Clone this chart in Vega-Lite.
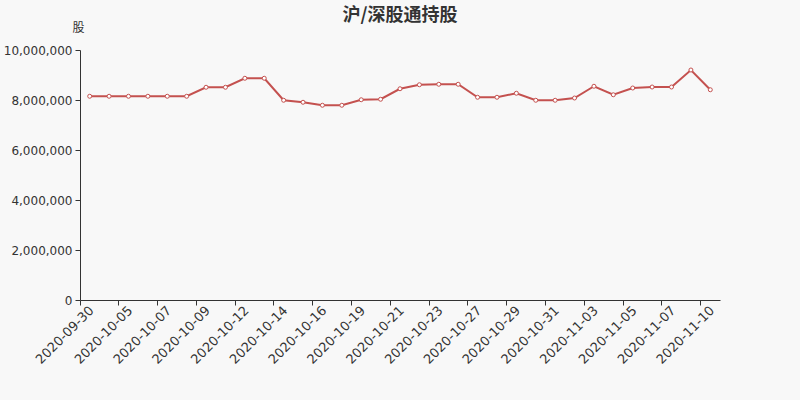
{
  "$schema": "https://vega.github.io/schema/vega-lite/v6.json",
  "description": "沪/深股通持股 line chart",
  "background": "#f8f8f8",
  "autosize": "none",
  "padding": {"left": 80, "top": 50, "right": 80, "bottom": 100},
  "width": 640,
  "height": 250,
  "title": {
    "text": "沪/深股通持股",
    "font": "Noto Sans CJK SC",
    "fontSize": 18,
    "fontWeight": "bold",
    "color": "#333333",
    "anchor": "middle",
    "frame": "group",
    "offset": -4
  },
  "config": {
    "view": {"stroke": null},
    "font": "DejaVu Sans",
    "axis": {
      "labelFont": "DejaVu Sans",
      "labelFontSize": 12,
      "labelColor": "#333333",
      "domainColor": "#333333",
      "tickColor": "#333333",
      "tickSize": 5,
      "grid": false
    }
  },
  "data": {
    "values": [
      {"date": "2020-09-30", "shares": 8150000},
      {"date": "2020-10-02", "shares": 8150000},
      {"date": "2020-10-05", "shares": 8150000},
      {"date": "2020-10-06", "shares": 8150000},
      {"date": "2020-10-07", "shares": 8150000},
      {"date": "2020-10-08", "shares": 8150000},
      {"date": "2020-10-09", "shares": 8510000},
      {"date": "2020-10-11", "shares": 8510000},
      {"date": "2020-10-12", "shares": 8870000},
      {"date": "2020-10-13", "shares": 8870000},
      {"date": "2020-10-14", "shares": 7990000},
      {"date": "2020-10-15", "shares": 7910000},
      {"date": "2020-10-16", "shares": 7790000},
      {"date": "2020-10-18", "shares": 7790000},
      {"date": "2020-10-19", "shares": 8010000},
      {"date": "2020-10-20", "shares": 8030000},
      {"date": "2020-10-21", "shares": 8450000},
      {"date": "2020-10-22", "shares": 8610000},
      {"date": "2020-10-23", "shares": 8630000},
      {"date": "2020-10-26", "shares": 8630000},
      {"date": "2020-10-27", "shares": 8110000},
      {"date": "2020-10-28", "shares": 8110000},
      {"date": "2020-10-29", "shares": 8270000},
      {"date": "2020-10-30", "shares": 7990000},
      {"date": "2020-10-31", "shares": 7990000},
      {"date": "2020-11-02", "shares": 8080000},
      {"date": "2020-11-03", "shares": 8550000},
      {"date": "2020-11-04", "shares": 8210000},
      {"date": "2020-11-05", "shares": 8480000},
      {"date": "2020-11-06", "shares": 8520000},
      {"date": "2020-11-07", "shares": 8520000},
      {"date": "2020-11-09", "shares": 9200000},
      {"date": "2020-11-10", "shares": 8410000}
    ]
  },
  "mark": {
    "type": "line",
    "color": "#c4514f",
    "strokeWidth": 2,
    "point": {"filled": true, "fill": "#ffffff", "stroke": "#c4514f", "strokeWidth": 1, "size": 16}
  },
  "encoding": {
    "x": {
      "field": "date",
      "type": "ordinal",
      "sort": null,
      "scale": {"type": "band", "paddingInner": 0, "paddingOuter": 0},
      "axis": {
        "title": null,
        "bandPosition": 0,
        "labelOffset": 2,
        "labelAngle": -45,
        "labelAlign": "right",
        "labelBaseline": "middle",
        "labelPadding": 3,
        "labelFont": "DejaVu Sans",
        "labelFontSize": 13,
        "labelLimit": 200,
        "labelOverlap": false,
        "values": ["2020-09-30", "2020-10-05", "2020-10-07", "2020-10-09", "2020-10-12", "2020-10-14", "2020-10-16", "2020-10-19", "2020-10-21", "2020-10-23", "2020-10-27", "2020-10-29", "2020-10-31", "2020-11-03", "2020-11-05", "2020-11-07", "2020-11-10"]
      }
    },
    "y": {
      "field": "shares",
      "type": "quantitative",
      "scale": {"domain": [0, 10000000], "nice": false},
      "axis": {
        "title": "股",
        "titleFont": "Noto Sans CJK SC",
        "titleFontSize": 12,
        "titleFontWeight": "normal",
        "titleColor": "#333333",
        "titleAngle": 0,
        "titleX": -2,
        "titleY": -16,
        "titleAlign": "center",
        "titleBaseline": "bottom",
        "values": [0, 2000000, 4000000, 6000000, 8000000, 10000000],
        "format": ",.0f",
        "labelPadding": 3
      }
    }
  }
}
